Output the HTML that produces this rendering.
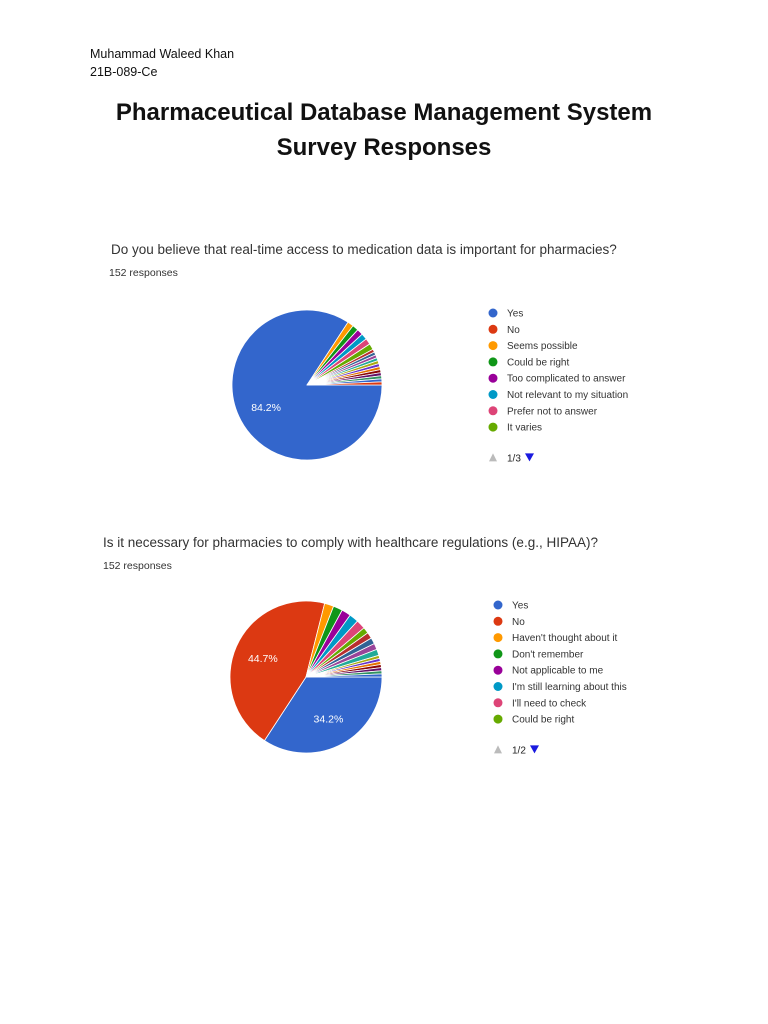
<!DOCTYPE html>
<html><head><meta charset="utf-8">
<style>
body{margin:0;background:#fff;width:768px;height:1024px;position:relative;overflow:hidden;font-family:"Liberation Sans",sans-serif}
.a{position:absolute;white-space:nowrap}
</style></head><body>
<div class="a" style="left:90px;top:47px;font-size:12.5px;color:#111">Muhammad Waleed Khan</div>
<div class="a" style="left:90px;top:65px;font-size:12.5px;color:#111">21B-089-Ce</div>
<div class="a" style="left:0;width:768px;top:95px;text-align:center;font-size:24px;font-weight:bold;line-height:35px;color:#111">Pharmaceutical Database Management System<br>Survey Responses</div>
<svg width="768" height="1024" style="position:absolute;left:0;top:0" id="svg">
<text x="111" y="254" font-size="13.5" fill="#333">Do you believe that real-time access to medication data is important for pharmacies?</text>
<text x="109" y="276" font-size="10.5" fill="#333">152 responses</text>
<text x="103" y="547" font-size="13.5" fill="#333">Is it necessary for pharmacies to comply with healthcare regulations (e.g., HIPAA)?</text>
<text x="103" y="569" font-size="10.5" fill="#333">152 responses</text>
</svg>
<script>
const colors=["#3366cc","#dc3912","#ff9900","#109618","#990099","#0099c6","#dd4477","#66aa00","#b82e2e","#316395","#994499","#22aa99","#aaaa11","#6633cc","#e67300","#8b0707","#651067","#329262"];
const q1Labels=["Yes","No","Seems possible","Could be right","Too complicated to answer","Not relevant to my situation","Prefer not to answer","It varies"];
const q1Values=[128,0,2,2,2,2,2,2,1,1,1,1,1,1,1,1,1,1,1,1];
const q1Page="1/3";
const q2Labels=["Yes","No","Haven't thought about it","Don't remember","Not applicable to me","I'm still learning about this","I'll need to check","Could be right"];
const q2Values=[52,68,3,3,3,3,3,2,2,2,2,2,1,1,1,1,1,1,1];
const q2Page="1/2";
const svg=document.getElementById('svg');
const NS="http://www.w3.org/2000/svg";
function mk(t,a){const e=document.createElementNS(NS,t);for(const k in a)e.setAttribute(k,a[k]);svg.appendChild(e);return e;}
function pie(vals,labels,cx,cy,r,lx,ly,page,pfx){
  const tot=vals.reduce((a,b)=>a+b,0);let ang=0;
  vals.forEach((v,i)=>{
    if(!v)return;
    const a0=ang,a1=ang+v/tot*2*Math.PI;ang=a1;
    const x0=cx+r*Math.cos(a0),y0=cy+r*Math.sin(a0),x1=cx+r*Math.cos(a1),y1=cy+r*Math.sin(a1);
    const p=mk('path',{d:`M${cx},${cy}L${x0},${y0}A${r},${r} 0 ${a1-a0>Math.PI?1:0} 1 ${x1},${y1}Z`,fill:colors[i%colors.length],stroke:'#fff','stroke-width':0.8});
    
    
    if(v/tot>0.2){
      const m=(a0+a1)/2;
      const t=mk('text',{x:cx+r*0.62*Math.cos(m),y:cy+r*0.62*Math.sin(m)+4,'text-anchor':'middle','font-size':10.5,fill:'#fff'});
      t.textContent=(v/tot*100).toFixed(1)+'%';
      
      
    }
  });
  labels.forEach((l,i)=>{
    const y=ly+i*16.3;
    const c=mk('circle',{cx:lx,cy:y,r:4.5,fill:colors[i]});
    
    
    const t=mk('text',{x:lx+14,y:y+3.5,'font-size':10,fill:'#333'});
    t.textContent=l;
    
    
  });
  const py=ly+8*16.3+14;
  const up=mk('path',{d:`M${lx-4},${py+4}L${lx+4},${py+4}L${lx},${py-4}Z`,fill:'#bbb'});
  
  
  const pt=mk('text',{x:lx+14,y:py+4,'font-size':10,fill:'#222'});pt.textContent=page;
  
  
  const dn=mk('path',{d:`M${lx+32},${py-4}L${lx+41},${py-4}L${lx+36.5},${py+4}Z`,fill:'#1a1adf'});
  
  
}
pie(q1Values,q1Labels,307,385,75,493,313,q1Page,'q1');
pie(q2Values,q2Labels,306,677,76,498,605,q2Page,'q2');
</script>
</body></html>
